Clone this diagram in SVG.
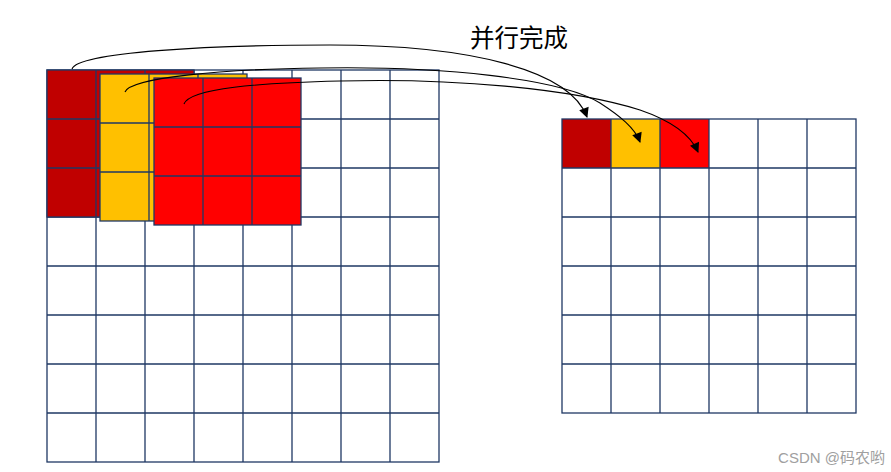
<svg xmlns="http://www.w3.org/2000/svg" width="891" height="472" viewBox="0 0 891 472">
<defs>
<style>
.g{fill:none;stroke:#1F3864;stroke-width:1.3}
.c{stroke:#1F3864;stroke-width:1.3}
.k1{fill:#C00000}
.k2{fill:#FFC000}
.k3{fill:#FF0000}
.con{fill:none;stroke:#000;stroke-width:1.1}
.t{font-family:"Liberation Sans","Noto Sans CJK SC",sans-serif}
</style>
<marker id="ah" viewBox="0 0 10 10" refX="9" refY="5" markerWidth="11" markerHeight="10" markerUnits="userSpaceOnUse" orient="auto">
<path d="M0,0 L10,5 L0,10 z" fill="#000"/>
</marker>
</defs>
<rect width="891" height="472" fill="#fff"/>
<g id="input-grid">
<rect x="47" y="70" width="392" height="392" class="g"/>
<path class="g" d="M96,70V462M145,70V462M194,70V462M243,70V462M292,70V462M341,70V462M390,70V462M47,119H439M47,168H439M47,217H439M47,266H439M47,315H439M47,364H439M47,413H439"/>
</g>
<g id="output-grid">
<rect x="562" y="119" width="49" height="49" class="k1"/>
<rect x="611" y="119" width="49" height="49" class="k2"/>
<rect x="660" y="119" width="49" height="49" class="k3"/>
<rect x="562" y="119" width="294" height="294" class="g"/>
<path class="g" d="M611,119V413M660,119V413M709,119V413M758,119V413M807,119V413M562,168H856M562,217H856M562,266H856M562,315H856M562,364H856"/>
</g>
<g id="kernel-1">
<rect x="47" y="70" width="147" height="147" class="c k1"/>
<path class="g" d="M96,70V217M145,70V217M47,119H194M47,168H194"/>
</g>
<g id="kernel-2">
<rect x="100" y="74" width="147" height="147" class="c k2"/>
<path class="g" d="M149,74V221M198,74V221M100,123H247M100,172H247"/>
</g>
<g id="kernel-3">
<rect x="154" y="78" width="147" height="147" class="c k3"/>
<path class="g" d="M203,78V225M252,78V225M154,127H301M154,176H301"/>
</g>
<g id="connectors">
<path class="con" marker-end="url(#ah)" d="M72,69 C78,52 210,45 330,45 C470,45 570,70 587,117"/>
<path class="con" marker-end="url(#ah)" d="M125,92 C130,78 220,69 320,68 C440,66 560,78 600,103 C620,116 635,128 640,142"/>
<path class="con" marker-end="url(#ah)" d="M184,104 C190,88 260,83 340,81 C450,78 570,88 640,110 C675,122 692,138 698,152"/>
</g>
<g id="label">
<text class="t" x="470" y="47" font-size="24.5" fill="#000">并行完成</text>
</g>
<g id="watermark">
<text class="t" x="885" y="463" font-size="15" fill="#a0a0a0" text-anchor="end">CSDN @码农哟</text>
</g>
</svg>
